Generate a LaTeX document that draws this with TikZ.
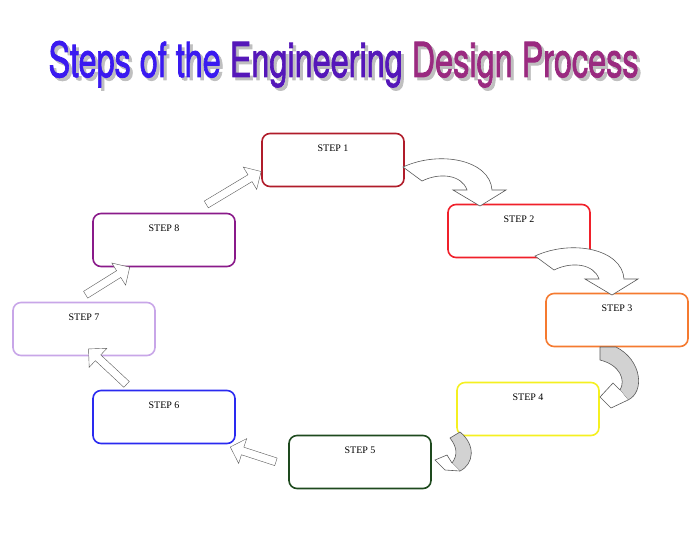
\documentclass[tikz,border=0pt]{standalone}
\usepackage{fontspec}
\setmainfont{Liberation Serif}
\newfontfamily\titlefont[FakeBold=2]{TeX Gyre Heros}
\usepackage{tikz}
\usetikzlibrary{shapes.arrows}
\definecolor{stepone}{HTML}{B01C2A}
\definecolor{steptwo}{HTML}{F0202A}
\definecolor{stepthree}{HTML}{F57A30}
\definecolor{stepfour}{HTML}{F5F020}
\definecolor{stepfive}{HTML}{1E4A1E}
\definecolor{stepsix}{HTML}{2A2AF0}
\definecolor{stepseven}{HTML}{C8A6E8}
\definecolor{stepeight}{HTML}{8A1A8A}
\definecolor{titleblue}{HTML}{3A1AF0}
\definecolor{titlepurple}{HTML}{9A2A80}

\begin{document}
\begin{tikzpicture}[x=1pt,y=-1pt]
\tikzset{stepbox/.style={draw, line width=1.6pt, rounded corners=8pt, minimum width=142pt, minimum height=53pt, fill=white},
         straight/.style={single arrow, draw=gray!70!black, fill=white, minimum width=26pt, single arrow head extend=5pt, inner sep=2pt},
         band/.style={draw=gray!70!black, fill=white, line width=0.6pt}}
\useasboundingbox (0,0) rectangle (700,550);

% title
\node[anchor=south west, text=gray!50] at (48,94) {\resizebox{590pt}{36pt}{\titlefont Steps of the Engineering Design Process}};
\node[anchor=south west] (title) at (45,91) {\resizebox{590pt}{36pt}{\titlefont\color{titleblue}Steps of the \color{blue!45!titlepurple}Engineering \color{titlepurple}Design Process}};

% steps
\node[stepbox, draw=stepone, label={[anchor=north,yshift=-9pt]north:STEP 1}] (s1) at (333,160) {};
\node[stepbox, draw=steptwo, label={[anchor=north,yshift=-9pt]north:STEP 2}] (s2) at (519,231) {};
\node[stepbox, draw=stepthree, label={[anchor=north,yshift=-9pt]north:STEP 3}] (s3) at (617,320) {};
\node[stepbox, draw=stepfour, label={[anchor=north,yshift=-9pt]north:STEP 4}] (s4) at (528,409) {};
\node[stepbox, draw=stepfive, label={[anchor=north,yshift=-9pt]north:STEP 5}] (s5) at (360,462) {};
\node[stepbox, draw=stepsix, label={[anchor=north,yshift=-9pt]north:STEP 6}] (s6) at (164,417) {};
\node[stepbox, draw=stepseven, label={[anchor=north,yshift=-9pt]north:STEP 7}] (s7) at (84,329) {};
\node[stepbox, draw=stepeight, label={[anchor=north,yshift=-9pt]north:STEP 8}] (s8) at (164,240) {};

% curved arrows 1->2 and 2->3
\foreach \dx/\dy in {0/0, 132/89}{
  \begin{scope}[shift={(\dx,\dy)}]
    \draw[band] (403,167) .. controls (440,150) and (490,160) .. (492,190) -- (506,190) -- (480,206)
      -- (453,190) -- (467,190) .. controls (462,175) and (440,172) .. (422,181) -- cycle;
  \end{scope}
}

% curved arrow 3->4
\draw[band, fill=gray!35] (600,347) -- (616,347) .. controls (642,360) and (645,392) .. (628,400)
  -- (620,390) .. controls (626,380) and (620,365) .. (600,360) -- cycle;
\draw[band] (628,400) -- (611,408) -- (600,397) -- (613,383) -- (620,390);
% curved arrow 4->5
\draw[band, fill=gray!35] (450,438) -- (460,432) .. controls (476,445) and (474,464) .. (460,471)
  -- (452,463) .. controls (458,455) and (457,447) .. cycle;
\draw[band] (460,471) -- (445,470) -- (435,460) -- (447,455) -- (452,463);

% straight arrows
\node[straight, minimum height=64pt, rotate=31] (a81) at (232,189) {};
\node[straight, minimum height=52pt, rotate=32] (a78) at (106,282) {};
\node[straight, minimum height=52pt, rotate=137] (a67) at (109,368) {};
\node[straight, minimum height=48pt, rotate=162] (a56) at (255,455) {};
\end{tikzpicture}
\end{document}
